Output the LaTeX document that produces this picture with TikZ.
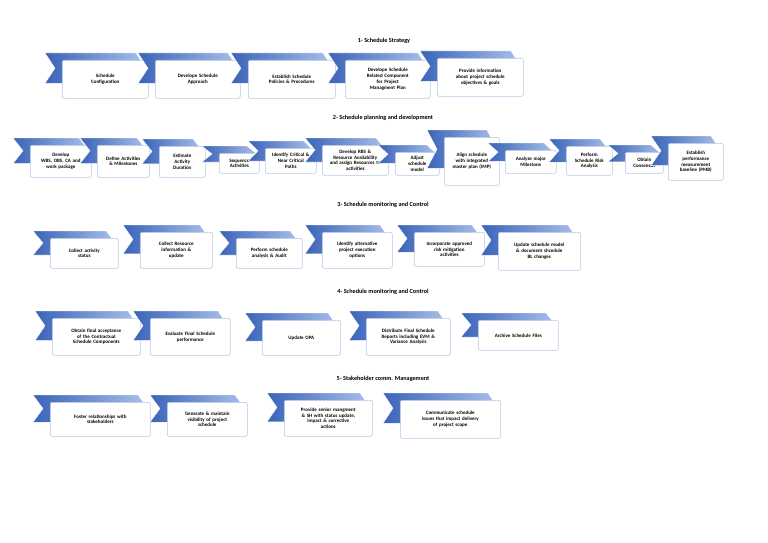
\documentclass[tikz,border=0pt]{standalone}
\usepackage{fontspec}
\setmainfont{Carlito}
\definecolor{cdark}{HTML}{3B64B8}
\definecolor{clight}{HTML}{A9C0EA}
\definecolor{cbord}{HTML}{B4C7E7}
\begin{document}
\begin{tikzpicture}[x=1pt,y=-1pt,
  box/.style={draw=cbord, line width=0.6pt, fill=white, rounded corners=2pt, anchor=north west, align=center, inner sep=1pt, font=\fontsize{5}{5.8}\selectfont\bfseries},
  chev/.style={left color=cdark, right color=clight, draw=white, line width=0.4pt},
  ttl/.style={font=\fontsize{6.2}{7}\selectfont\bfseries}]
\useasboundingbox (0,0) rectangle (768,543);
\newcommand\stepbx[6]{%
  \pgfmathsetmacro\W{#4-#2}\pgfmathsetmacro\H{#5-#3}%
  \pgfmathsetmacro\T{#3-7}\pgfmathsetmacro\B{#3-7+0.8*\H}\pgfmathsetmacro\M{(\T+\B)/2}%
  \path[chev] (#2-17,\T) -- (#4-12,\T) -- (#4-2,\M) -- (#4-12,\B) -- (#2-17,\B) -- (#2-7,\M) -- cycle;
  \node[box, minimum width=\W pt, minimum height=\H pt, text width=\W pt-2pt] (#1) at (#2,#3) {#6};}
\node[ttl] (t1) at (384,41) {1- Schedule Strategy};
\stepbx{a1}{62}{60}{148}{98}{Schedule\\Configuration}
\stepbx{a2}{155}{60}{240}{98}{Develope Schedule\\Approach}
\stepbx{a3}{248}{60}{335}{98}{Establish Schedule\\Policies \& Procedures}
\stepbx{a4}{345}{60}{430}{98}{Develope Schedule\\Related Component\\for Project\\Managment Plan}
\stepbx{a5}{437}{58}{523}{96}{Provide information\\about project schedule\\objectives \& goals}
\node[ttl] (t2) at (383,118) {2- Schedule planning and development};
\stepbx{b1}{30}{145}{91}{177}{Develop\\WBS, OBS, CA and\\work package}
\stepbx{b2}{97}{145}{149}{177}{Define Activities\\\& Milestones}
\stepbx{b3}{159}{146}{205}{177}{Estimate\\Activity\\Duration}
\stepbx{b4}{219}{153}{259}{173}{Sequence\\Activities}
\stepbx{b5}{265}{148}{316}{173}{Identify Critical \&\\Near Critical\\Paths}
\stepbx{b6}{322}{145}{388}{175}{Develop RBS \&\\Resource Availability\\and assign Resources to\\activities}
\stepbx{b7}{395}{152}{439}{175}{Adjust\\schedule\\model}
\stepbx{b8}{444}{137}{499}{185}{Align schedule\\with integrated\\master plan (IMP)}
\stepbx{b9}{505}{150}{556}{173}{Analyze major\\Milestone}
\stepbx{b10}{566}{146}{612}{175}{Perform\\Schedule Risk\\Analysis}
\stepbx{b11}{625}{152}{663}{173}{Obtain\\Consensus}
\stepbx{b12}{668}{143}{723}{180}{Establish\\performance\\measurement\\baseline (PMB)}
\node[ttl] (t3) at (383,205) {3- Schedule monitoring and Control};
\stepbx{c1}{50}{238}{118}{268}{Collect activity\\status}
\stepbx{c2}{140}{232}{212}{268}{Collect Resource\\information \&\\update}
\stepbx{c3}{236}{238}{302}{268}{Perform schedule\\analysis \& Audit}
\stepbx{c4}{322}{232}{392}{268}{Identify alternative\\project execution\\options}
\stepbx{c5}{414}{232}{484}{266}{Incorporate approved\\risk mitigation\\activities}
\stepbx{c6}{498}{232}{580}{270}{Update schedule model\\\& document shcedule\\BL changes}
\node[ttl] (t4) at (383,292) {4- Schedule monitoring and Control};
\stepbx{d1}{52}{318}{140}{355}{Obtain final acceptance\\of the Contractual\\Schedule Components}
\stepbx{d2}{150}{318}{230}{355}{Evaluate Final Schedule\\performance}
\stepbx{d3}{262}{320}{340}{355}{Update OPA}
\stepbx{d4}{366}{318}{450}{355}{Distribute Final Schedule\\Reports including EVM \&\\Variance Analysis}
\stepbx{d5}{478}{320}{558}{350}{Archive Schedule Files}
\node[ttl] (t5) at (383,379) {5- Stakeholder comm. Management};
\stepbx{e1}{50}{402}{150}{436}{Foster relationships with\\stakeholders}
\stepbx{e2}{167}{402}{247}{436}{Generate \& maintain\\visibility of project\\schedule}
\stepbx{e3}{284}{400}{372}{436}{Provide senior mangment\\\& SH with status update,\\impact \& corrective\\actions}
\stepbx{e4}{400}{400}{500}{438}{Communicate schedule\\issues that impact delivery\\of project scope}
\end{tikzpicture}
\end{document}
